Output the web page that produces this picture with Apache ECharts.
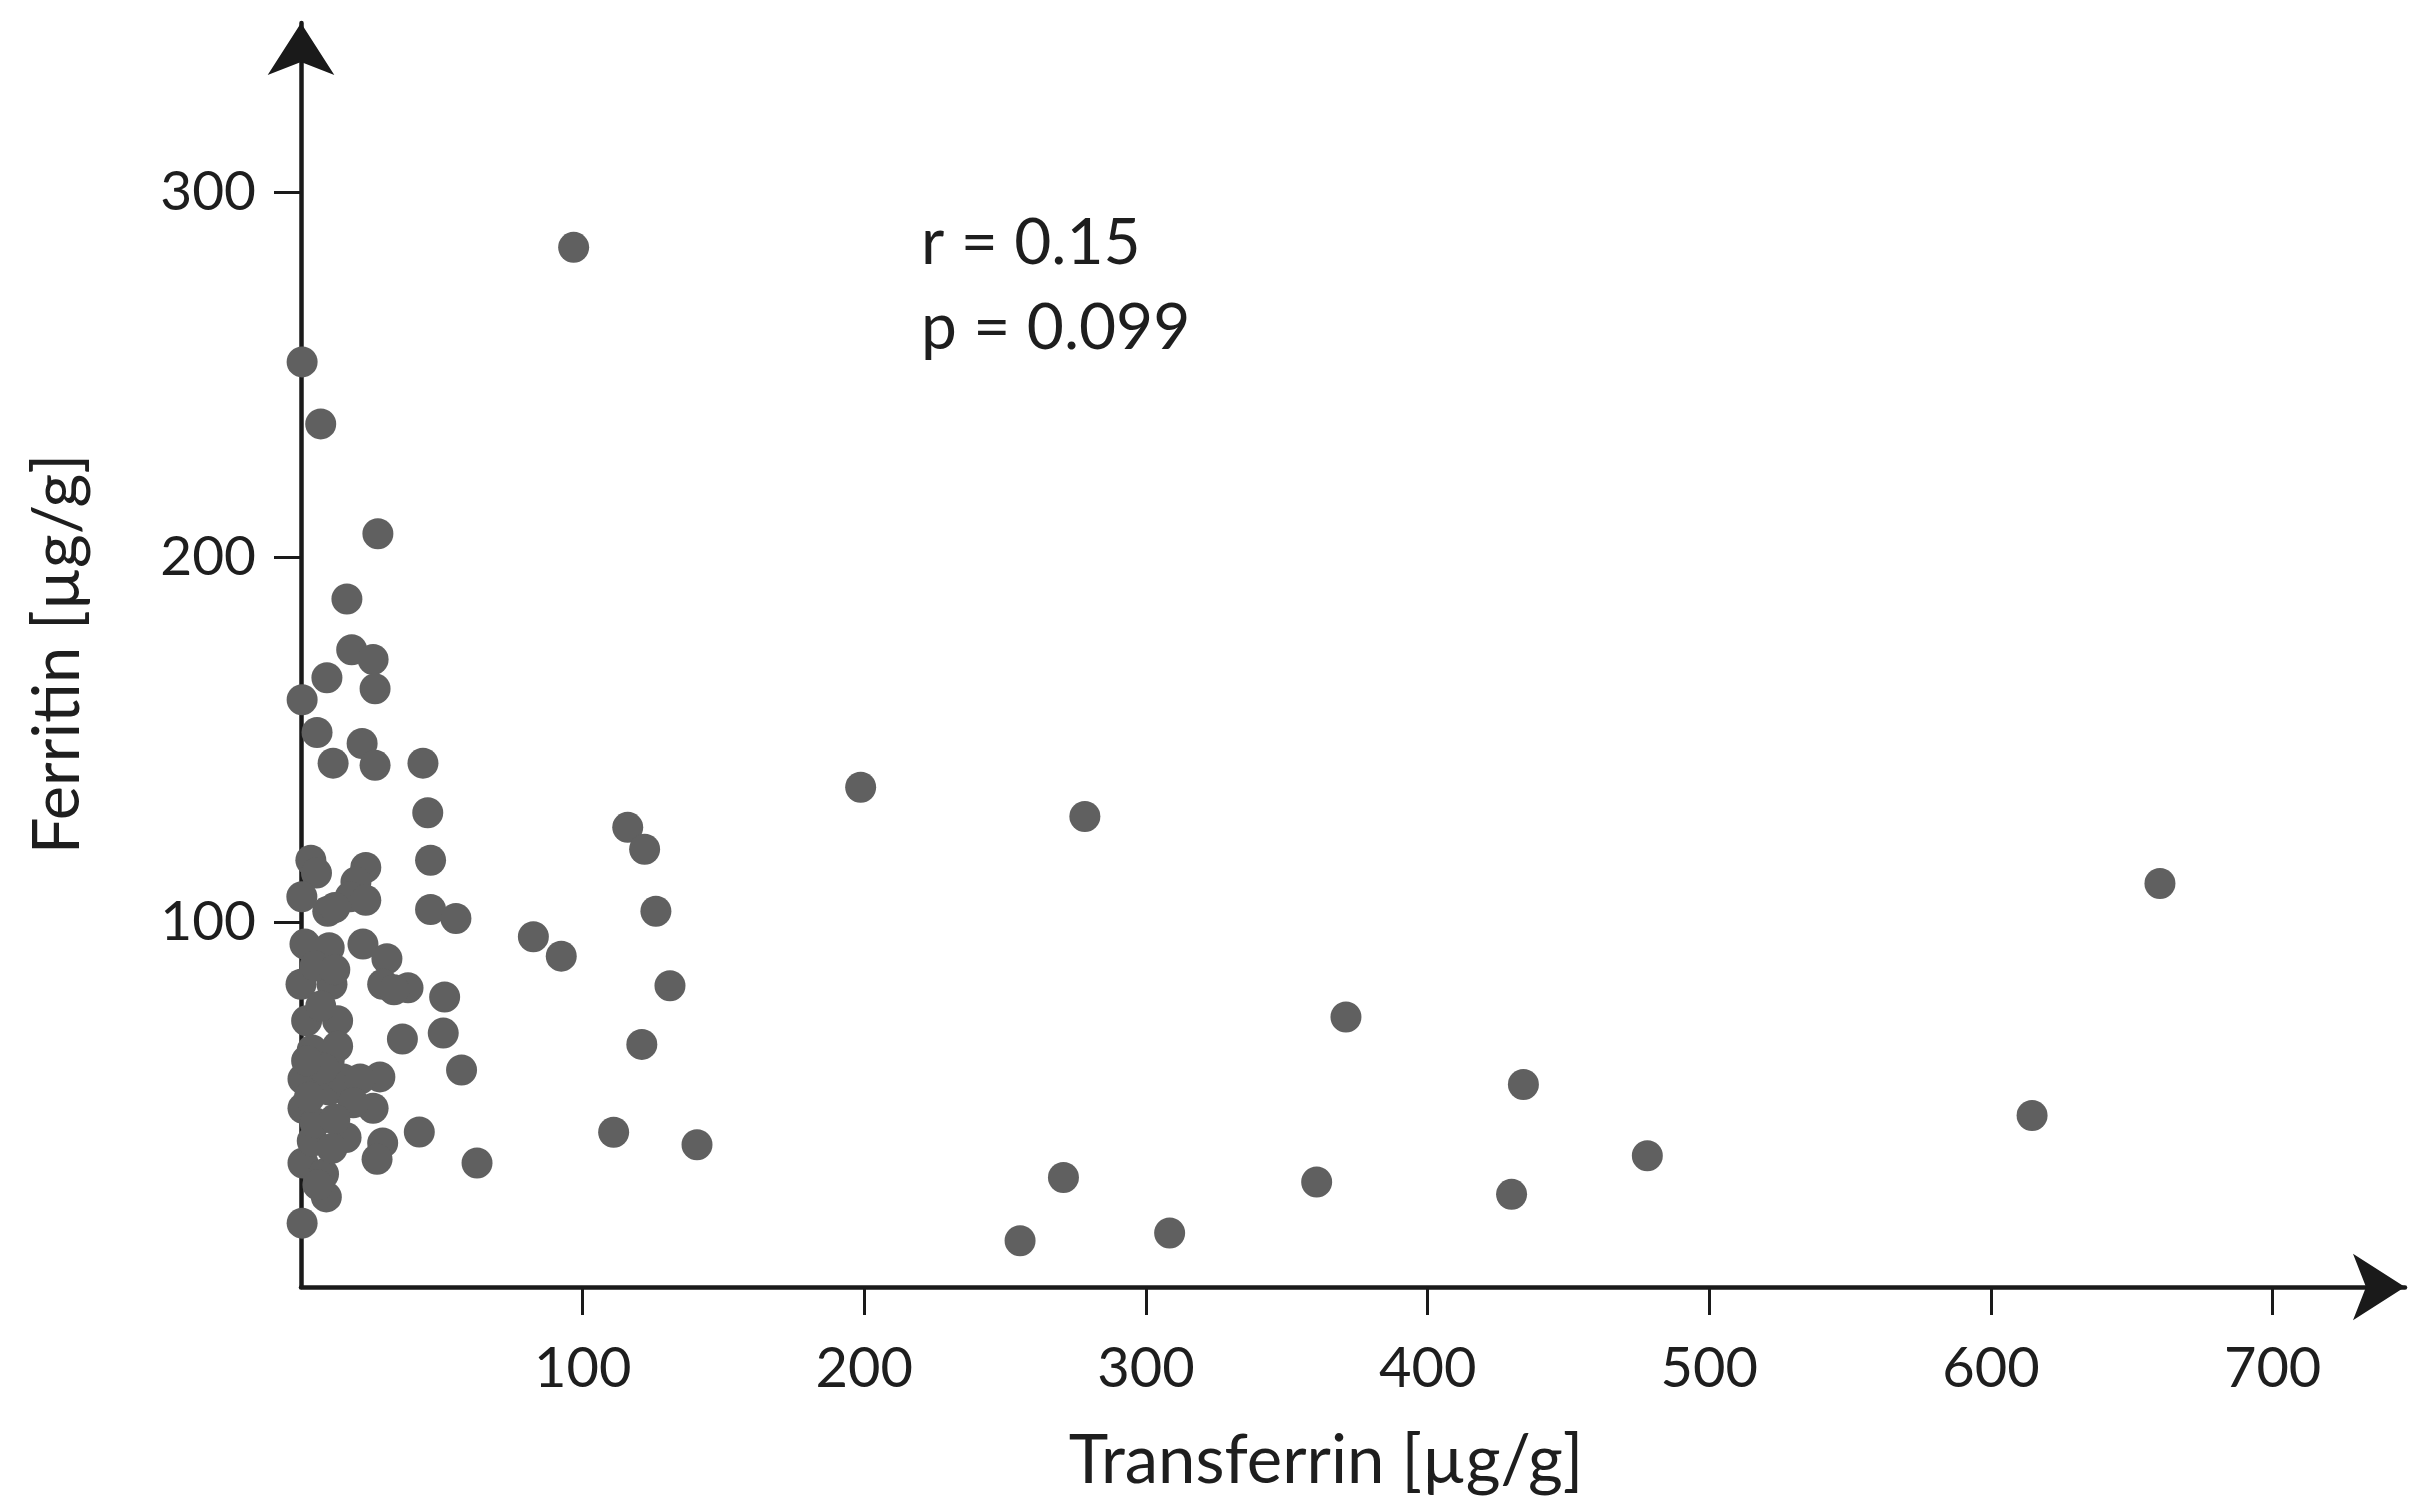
<!DOCTYPE html>
<html>
<head>
<meta charset="utf-8">
<script src="https://cdn.jsdelivr.net/npm/echarts@6/dist/echarts.min.js"></script>
<style>html,body{margin:0;padding:0;background:#fff;}#c{width:2411px;height:1509px;}</style>
</head>
<body>
<div id="c"></div>
<script>
// Transferrin [µg/g] values
const transferrin = [
  96.8, 198.7, 278.3, 660, 371, 434, 614.6, 478, 270.7, 360.6, 429.8, 255.3, 308.4,
  116, 122, 126, 131, 121, 111, 140.6, 82.5, 92.4,
  0.4, 7, 27.3, 16.3, 18, 25.6, 26.3, 9.2, 0.4, 5.7, 11.4, 21.7, 26.3, 43.3, 45, 46, 46, 55,
  3.5, 5.5, 23, 19.5, 17.5, 23, 9.5, 12, 0.3,
  1.4, 10, 22, 30.5, 29, 38, 33, 0, 11, 51, 50.5, 36, 2, 13, 7, 5, 12,
  57, 28, 25.6, 42, 62.5, 29, 27, 16, 0.4, 9, 0.7, 0.7, 0.7, 8, 4, 10, 15, 21, 10, 4, 13, 18.5, 5, 12, 6, 3, 8, 11, 2
];
// Ferritin [µg/g] values
const ferritin = [
  285, 137, 129, 110.6, 74, 55.5, 47, 36, 30, 28.8, 25.4, 12.7, 14.8,
  126, 120, 103, 82.6, 66.5, 42.4, 39, 96, 90.7,
  253.6, 236.6, 206.5, 188.6, 174.7, 172, 164, 167, 161, 152, 143.6, 149, 143, 143.6, 130, 117, 103.5, 101,
  117, 113.5, 115, 111, 107, 106, 103, 104, 107,
  94, 93, 94, 90, 83, 82, 81.5, 83, 83, 79.5, 69.6, 68, 73, 73, 77, 88, 87,
  59.5, 57.6, 49, 42.5, 34, 39.5, 35, 41, 17.5, 24.7, 57, 49, 34, 31, 40, 54, 57, 57, 62, 65, 66, 50.5, 45, 46, 28, 52, 60, 38, 62
];
const xTicks = [100, 200, 300, 400, 500, 600, 700];
const yTicks = [100, 200, 300];
const statLines = ['r = 0.15', 'p = 0.099'];
const xTitle = 'Transferrin [µg/g]';
const yTitle = 'Ferritin [µg/g]';

const points = transferrin.map((x, i) => [x, ferritin[i]]);

const chart = echarts.init(document.getElementById('c'));
const txt = '#1e1e1e';
const font = 'Lato';
chart.setOption({
  animation: false,
  backgroundColor: '#ffffff',
  grid: { left: 301, right: 6, top: 23, bottom: 222, containLabel: false },
  xAxis: {
    type: 'value', min: 0, max: 747,
    splitLine: { show: false },
    axisLine: { show: true, onZero: false, symbol: ['none', 'arrow'], symbolSize: [50, 52],
      lineStyle: { color: '#1a1a1a', width: 4.5 } },
    axisTick: { show: true, customValues: xTicks, length: 28, lineStyle: { color: '#1a1a1a', width: 3 } },
    axisLabel: { customValues: xTicks, margin: 54, fontSize: 56, fontFamily: font, color: txt }
  },
  yAxis: {
    type: 'value', min: 0, max: 346.5,
    splitLine: { show: false },
    axisLine: { show: true, onZero: false, symbol: ['none', 'arrow'], symbolSize: [50, 52],
      lineStyle: { color: '#1a1a1a', width: 4.5 } },
    axisTick: { show: true, customValues: yTicks, length: 27, lineStyle: { color: '#1a1a1a', width: 3 } },
    axisLabel: { customValues: yTicks, margin: 45, fontSize: 55, fontFamily: font, color: txt }
  },
  series: [{
    type: 'scatter',
    data: points,
    symbol: 'circle',
    symbolSize: 31,
    itemStyle: { color: '#606060', opacity: 1 }
  }],
  graphic: [
    ...statLines.map((t, i) => ({
      type: 'text', left: 921, top: 211 + i * 85,
      style: { text: t, font: '64px Lato', fill: txt }
    })),
    { type: 'text', x: 1326, y: 1461,
      style: { text: xTitle, font: '67px Lato', fill: txt, align: 'center', verticalAlign: 'middle' } },
    { type: 'text', x: 58, y: 654, rotation: Math.PI / 2,
      style: { text: yTitle, font: '65px Lato', fill: txt, align: 'center', verticalAlign: 'middle' } }
  ]
});
</script>
</body>
</html>
